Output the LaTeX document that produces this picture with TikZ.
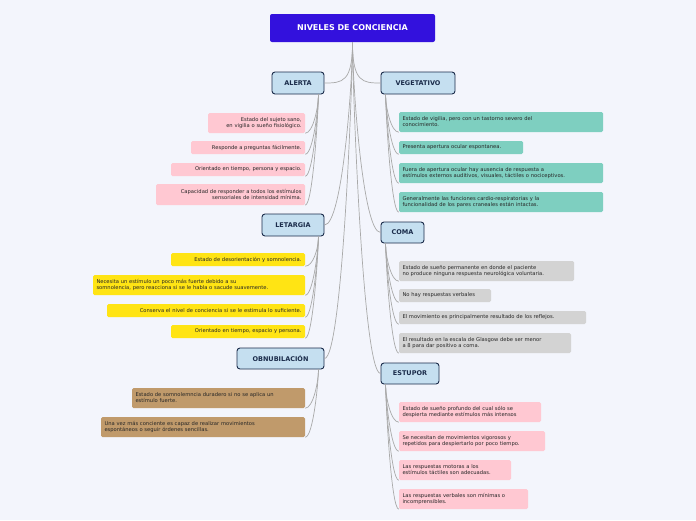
\documentclass[tikz,border=0pt]{standalone}
\usepackage{fontspec}
\setmainfont{DejaVu Sans}
\usetikzlibrary{calc}
\definecolor{bg}{HTML}{F3F5FC}
\definecolor{rootc}{HTML}{3311DD}
\definecolor{brc}{HTML}{C5DFF0}
\definecolor{brd}{HTML}{1A2B4A}
\definecolor{pinkc}{HTML}{FFC8D2}
\definecolor{yelc}{HTML}{FFE414}
\definecolor{tanc}{HTML}{C09A6B}
\definecolor{tealc}{HTML}{7ECFC0}
\definecolor{greyc}{HTML}{D3D3D3}
\definecolor{linec}{HTML}{A9A9A9}
\tikzset{
  rootbox/.style={fill=rootc,rounded corners=2pt,text=white,font=\bfseries\fontsize{8}{9}\selectfont,inner sep=0},
  branchbox/.style={fill=brc,draw=brd,line width=0.9pt,rounded corners=3pt,text=brd,font=\bfseries\fontsize{6.5}{7}\selectfont,inner sep=0},
  leafbox/.style={rounded corners=1.5pt,font=\fontsize{5.2}{6}\selectfont,inner sep=0,text=black!85},
  conn/.style={draw=linec,line width=0.7pt},
}
% \lf{name}{x1}{y1}{x2}{y2}{color}{align}{text}
\newcommand{\lf}[8]{\node[leafbox,fill=#6,minimum width={#4-#2},minimum height={#5-#3},text width={#4-#2-7},align=#7] (#1) at ({(#2+#4)/2},{(#3+#5)/2}) {#8};}
\newcommand{\bx}[6]{\node[#6,minimum width={#4-#2},minimum height={#5-#3}] (#1) at ({(#2+#4)/2},{(#3+#5)/2}) {};}
\begin{document}
\begin{tikzpicture}[x=1pt,y=-1pt]
\fill[bg] (0,0) rectangle (696,520);
\useasboundingbox (0,0) rectangle (696,520);
\node[rootbox,minimum width=165,minimum height=28] (root) at (352.5,28) {NIVELES DE CONCIENCIA};
\node[branchbox,minimum width=52,minimum height=22] (alerta) at (298,83) {ALERTA};
\node[branchbox,minimum width=74,minimum height=22] (veg) at (418,83) {VEGETATIVO};
\node[branchbox,minimum width=62,minimum height=22] (let) at (293,225) {LETARGIA};
\node[branchbox,minimum width=43,minimum height=21] (coma) at (402.5,232.5) {COMA};
\node[branchbox,minimum width=87,minimum height=21] (obn) at (280.5,358.5) {OBNUBILACIÓN};
\node[branchbox,minimum width=58,minimum height=21] (est) at (410,373.5) {ESTUPOR};
% left leaves
\lf{a1}{208}{113}{305}{133}{pinkc}{right}{Estado del sujeto sano,\\en vigilia o sueño fisiológico.}
\lf{a2}{191}{141}{305}{154}{pinkc}{right}{Responde a preguntas fácilmente.}
\lf{a3}{171}{163}{305}{176}{pinkc}{right}{Orientado en tiempo, persona y espacio.}
\lf{a4}{156}{184}{305}{205}{pinkc}{right}{Capacidad de responder a todos los estímulos\\ sensoriales de intensidad mínima.}
\lf{l1}{171}{253}{305}{266}{yelc}{right}{Estado de desorientación y somnolencia.}
\lf{l2}{93}{275}{305}{295}{yelc}{left}{Necesita un estímulo un poco más fuerte debido a su\\somnolencia, pero reacciona si se le habla o sacude suavemente.}
\lf{l3}{107}{304}{305}{317}{yelc}{right}{Conserva el nivel de conciencia si se le estimula lo suficiente.}
\lf{l4}{171}{325}{305}{338}{yelc}{right}{Orientado en tiempo, espacio y persona.}
\lf{o1}{132}{388}{305}{408}{tanc}{left}{Estado de somnolemncia duradero si no se aplica un\\estímulo fuerte.}
\lf{o2}{101}{417}{305}{437}{tanc}{left}{Una vez más conciente es capaz de realizar movimientos\\espontáneos o seguir órdenes sencillas.}
% right leaves
\lf{v1}{399}{112}{603}{132}{tealc}{left}{Estado de vigilia, pero con un tastorno severo del\\conocimiento.}
\lf{v2}{399}{141}{523}{154}{tealc}{left}{Presenta apertura ocular espontanea.}
\lf{v3}{399}{163}{603}{183}{tealc}{left}{Fuera de apertura ocular hay ausencia de respuesta a\\estímulos externos auditivos, visuales, táctiles o nociceptivos.}
\lf{v4}{399}{192}{603}{212}{tealc}{left}{Generalmente las funciones cardio-respiratorias y la\\funcionalidad de los pares craneales están intactas.}
\lf{c1}{399}{261}{574}{281}{greyc}{left}{Estado de sueño permanente en donde el paciente\\no produce ninguna respuesta neurológica voluntaria.}
\lf{c2}{399}{289}{491}{302}{greyc}{left}{No hay respuestas verbales}
\lf{c3}{399}{311}{586}{324}{greyc}{left}{El movimiento es principalmente resultado de los reflejos.}
\lf{c4}{399}{333}{571}{353}{greyc}{left}{El resultado en la escala de Glasgow debe ser menor\\a 8 para dar positivo a coma.}
\lf{e1}{399}{402}{541}{422}{pinkc}{left}{Estado de sueño profundo del cual sólo se\\despierta mediante estímulos más intensos}
\lf{e2}{399}{431}{545}{451}{pinkc}{left}{Se necesitan de movimientos vigorosos y\\repetidos para despiertarlo por poco tiempo.}
\lf{e3}{399}{460}{511}{480}{pinkc}{left}{Las respuestas motoras a los\\estímulos táctiles son adecuadas.}
\lf{e4}{399}{489}{528}{509}{pinkc}{left}{Las respuestas verbales son mínimas o\\incomprensibles.}
% root connectors
\foreach \b in {alerta,let,obn} \draw[conn] (root.south) .. controls +(0,40) and +(18,0) .. (\b.east);
\foreach \b in {veg,coma,est} \draw[conn] (root.south) .. controls +(0,40) and +(-18,0) .. (\b.west);
% leaf connectors
\coordinate (aS) at ($(alerta.south east)+(-6,0)$);
\coordinate (lS) at ($(let.south east)+(-6,0)$);
\coordinate (oS) at ($(obn.south east)+(-6,0)$);
\coordinate (vS) at ($(veg.south west)+(5,0)$);
\coordinate (cS) at ($(coma.south west)+(5,0)$);
\coordinate (eS) at ($(est.south west)+(5,0)$);
\foreach \s/\l in {aS/a1,aS/a2,aS/a3,aS/a4,lS/l1,lS/l2,lS/l3,lS/l4,oS/o1,oS/o2}
  \draw[conn] (\s) .. controls +(0,12) and +(8,0) .. (\l.south east);
\foreach \s/\l in {vS/v1,vS/v2,vS/v3,vS/v4,cS/c1,cS/c2,cS/c3,cS/c4,eS/e1,eS/e2,eS/e3,eS/e4}
  \draw[conn] (\s) .. controls +(0,12) and +(-8,0) .. (\l.south west);
\end{tikzpicture}
\end{document}
